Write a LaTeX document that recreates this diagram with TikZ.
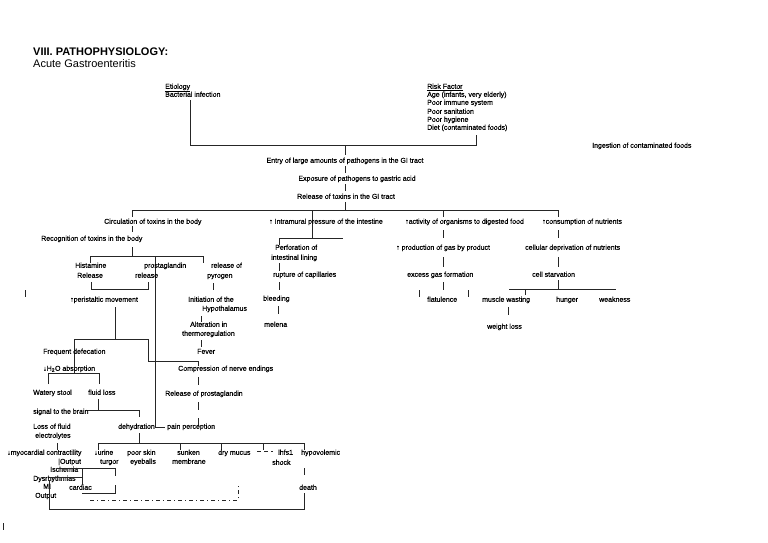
\documentclass[tikz,border=0pt]{standalone}
\usepackage{fontspec}
\setmainfont{Liberation Sans}
\newfontfamily\bodyfont{Liberation Sans}[FakeBold=0.5]
\begin{document}
\begin{tikzpicture}[x=1pt,y=-1pt,
  tx/.style={anchor=west,inner sep=0pt,font=\bodyfont\fontsize{7pt}{8pt}\selectfont,text height=5pt,text depth=1.5pt},
  ln/.style={line width=0.8pt,black!85},
  dd/.style={ln,dash pattern=on 4pt off 3pt on 1pt off 3pt}]
\useasboundingbox (0,0) rectangle (768,543);
\fill[white] (0,0) rectangle (768,543);
\newcommand\T[4]{\node[tx] (#1) at (#2,#3) {#4};}
% title
\node[anchor=base west,inner sep=0pt,font=\fontsize{11pt}{13pt}\selectfont\bfseries] (title) at (33,56) {VIII. PATHOPHYSIOLOGY:};
\node[anchor=base west,inner sep=0pt,font=\fontsize{11pt}{13pt}\selectfont] (sub) at (33,67) {Acute Gastroenteritis};
% etiology / risk
\T{et}{165}{87}{\underline{Etiology}}
\T{bi}{165}{95}{Bacterial infection}
\T{rf}{427}{87}{\underline{Risk Factor}}
\T{r1}{427}{95}{Age (infants, very elderly)}
\T{r2}{427}{103}{Poor immune system}
\T{r3}{427}{112}{Poor sanitation}
\T{r4}{427}{120}{Poor hygiene}
\T{r5}{427}{128}{Diet (contaminated foods)}
\draw[ln] (190,100) -- (190,145) -- (476,145) -- (476,135);
\draw[ln] (345,145) -- (345,155);
\node[tx,anchor=center] (entry) at (345,161) {Entry of large amounts of pathogens in the GI tract};
\draw[ln] (345,166) -- (345,173);
\node[tx,anchor=center] (expo) at (357,179) {Exposure of pathogens to gastric acid};
\draw[ln] (345,184) -- (345,191);
\node[tx,anchor=center] (rel) at (346,197) {Release of toxins in the GI tract};
\draw[ln] (345,202) -- (345,210);
\T{ing}{592}{146}{Ingestion of contaminated foods}
% main branch bar
\draw[ln] (132,210) -- (558,210);
\draw[ln] (132,210) -- (132,217);
\draw[ln] (443,210) -- (443,217);
\draw[ln] (558,210) -- (558,217);
\draw[ln] (312,210) -- (312,238);
\T{circ}{104}{222}{Circulation of toxins in the body}
\T{intra}{269}{222}{↑ Intramural pressure of the intestine}
\T{act}{405}{222}{↑activity of organisms to digested food}
\T{cons}{542}{222}{↑consumption of nutrients}
% left branch
\draw[ln] (132,226) -- (132,232);
\T{recog}{41}{239}{Recognition of toxins in the body}
\draw[ln] (132,247) -- (132,256);
\draw[ln] (90,256) -- (203,256);
\draw[ln] (90,256) -- (90,263);
\draw[ln] (203,256) -- (203,263);
\draw[ln] (155,256) -- (155,427) -- (165,427);
\T{hist}{75}{266}{Histamine}
\T{histb}{77}{276}{Release}
\T{prost}{144}{266}{prostaglandin}
\T{prostb}{135}{276}{release}
\T{pyr}{211}{266}{release of}
\T{pyrb}{207}{276}{pyrogen}
\draw[ln] (91,282) -- (91,289) -- (148,289) -- (148,282);
\draw[ln] (25,290) -- (25,297);
\T{peri}{70}{300}{↑peristaltic movement}
\draw[ln] (213,283) -- (213,290);
\T{init}{188}{300}{Initiation of the}
\T{initb}{202}{309}{Hypothalamus}
\draw[ln] (201,316) -- (201,322);
\T{alt}{190}{325}{Alteration in}
\T{altb}{182}{334}{thermoregulation}
\draw[ln] (201,340) -- (201,347);
\T{fever}{197}{352}{Fever}
\draw[ln] (115,307) -- (115,339);
\draw[ln] (74,339) -- (148,339);
\draw[ln] (74,339) -- (74,373);
\draw[ln] (148,339) -- (148,361) -- (198,361) -- (198,366);
\T{freq}{43}{352}{Frequent defecation}
\T{h2o}{43}{369}{↓H\textsubscript{2}O absorption}
\draw[ln] (48,384) -- (48,373) -- (99,373) -- (99,384);
\T{wat}{33}{393}{Watery stool}
\T{flu}{88}{393}{fluid loss}
\T{comp}{178}{369}{Compression of nerve endings}
\draw[ln] (198,377) -- (198,385);
\T{relp}{165}{394}{Release of prostaglandin}
\draw[ln] (198,402) -- (198,410);
\draw[ln] (198,418) -- (198,426);
\T{pain}{167}{427}{pain perception}
\T{dehy}{118}{427}{dehydration}
\draw[ln] (98,399) -- (98,410);
\draw[ln] (88,410) -- (139,410) -- (139,417);
\T{sig}{33}{412}{signal to the brain}
\T{loss}{33}{427}{Loss of fluid}
\T{lossb}{35}{436}{electrolytes}
\draw[ln] (57,443) -- (57,450);
\T{myo}{7}{453}{↓myocardial contractility}
\T{out1}{58}{462}{|Output}
\T{isch}{50}{470}{Ischemia}
\T{dys}{33}{479}{Dysrhythmias}
\T{mi}{43}{487}{MI}
\T{out2}{35}{496}{Output}
\T{card}{69}{488}{cardiac}
\draw[ln] (57,468) -- (115,468) -- (115,476);
\draw[ln] (50,477) -- (82,477);
\draw[ln] (82,468) -- (82,485);
\draw[ln] (82,493) -- (115,493) -- (115,485);
\draw[ln] (49,480) -- (49,509) -- (304,509) -- (304,493);
% dehydration children
\draw[ln] (139,433) -- (139,443);
\draw[ln] (98,443) -- (304,443);
\foreach \xx in {98,180,221,263,304} \draw[ln] (\xx,443) -- (\xx,450);
\T{uri}{94}{453}{↓urine}
\T{urib}{100}{462}{turgor}
\T{skin}{127}{453}{poor skin}
\T{skinb}{130}{462}{eyeballs}
\T{sunk}{177}{453}{sunken}
\T{sunkb}{172}{462}{membrane}
\T{dry}{218}{453}{dry mucus}
\draw[ln,dash pattern=on 4pt off 3pt] (257,451) -- (273,451);
\T{lh}{278}{453}{lhfs1}
\T{lhb}{272}{463}{shock}
\T{hypo}{301}{453}{hypovolemic}
\draw[ln] (304,468) -- (304,475);
\T{death}{299}{488}{death}
\draw[dd] (90,500) -- (238,500) -- (238,485);
\draw[ln] (3,523) -- (3,530);
% perforation branch
\draw[ln] (279,238) -- (343,238);
\draw[ln] (279,238) -- (279,245);
\T{perf}{275}{248}{Perforation of}
\T{perfb}{271}{258}{intestinal lining}
\draw[ln] (279,263) -- (279,271);
\T{rup}{273}{275}{rupture of capillaries}
\draw[ln] (279,282) -- (279,290);
\T{bleed}{263}{299}{bleeding}
\draw[ln] (278,306) -- (278,314);
\T{mel}{264}{325}{melena}
% gas branch
\draw[ln] (443,230) -- (443,238);
\T{prod}{396}{248}{↑ production of gas by product}
\draw[ln] (443,257) -- (443,267);
\T{exc}{407}{275}{excess gas formation}
\draw[ln] (443,282) -- (443,290);
\draw[ln] (419,290) -- (419,297);
\draw[ln] (468,290) -- (468,297);
\T{flat}{427}{300}{flatulence}
% nutrients branch
\draw[ln] (558,230) -- (558,238);
\T{cell}{525}{248}{cellular deprivation of nutrients}
\draw[ln] (558,257) -- (558,267);
\T{starv}{532}{275}{cell starvation}
\draw[ln] (558,280) -- (558,289);
\draw[ln] (509,289) -- (616,289);
\draw[ln] (525,289) -- (525,295);
\T{musc}{482}{300}{muscle wasting}
\T{hung}{556}{300}{hunger}
\T{weak}{599}{300}{weakness}
\draw[ln] (508,307) -- (508,315);
\T{wl}{487}{327}{weight loss}
\end{tikzpicture}
\end{document}
